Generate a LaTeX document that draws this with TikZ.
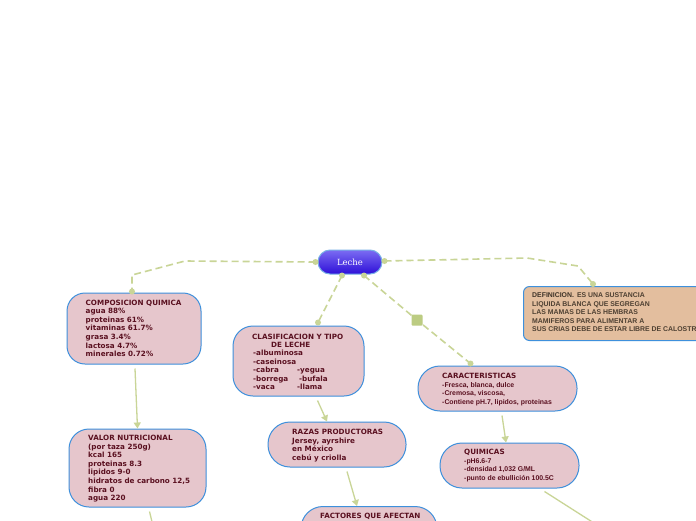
\documentclass[tikz,border=0pt]{standalone}
\usepackage{fontspec}
\setmainfont{DejaVu Sans}
\newfontfamily\vfont{DejaVu Sans}
\newfontfamily\afont{Liberation Sans}
\newfontfamily\serfont{DejaVu Serif}
\usetikzlibrary{arrows.meta,calc}
\definecolor{conn}{HTML}{C9D597}
\definecolor{connd}{HTML}{BCCC82}
\definecolor{pinkf}{HTML}{E6C6CC}
\definecolor{bord}{HTML}{3E90DC}
\definecolor{txt}{HTML}{5A1020}
\definecolor{tanf}{HTML}{E3BE9E}
\definecolor{deftxt}{HTML}{4E4032}
\definecolor{lecheTop}{HTML}{7B6CF2}
\definecolor{lecheBot}{HTML}{2E0FD8}
\tikzset{
  box/.style={draw=bord, line width=1pt, fill=pinkf, inner sep=0pt, rectangle},
  boxtext/.style={anchor=north west, inner sep=0pt, align=left, text=txt,
    font=\vfont\bfseries\fontsize{7.2}{8.6}\selectfont},
  dashconn/.style={draw=conn, line width=1.6pt, dash pattern=on 7pt off 4pt},
  solidconn/.style={draw=conn, line width=1.3pt, -{Triangle[width=7pt,length=6pt]}},
  plainconn/.style={draw=conn, line width=1.3pt},
  dot/.style={fill=conn, draw=none}
}
\newcommand{\sm}[1]{{\afont\bfseries\fontsize{6.9}{8.6}\selectfont #1}}
\begin{document}
\begin{tikzpicture}[x=1pt,y=-1pt]
\path[use as bounding box] (0,0) rectangle (696,520);
\clip (0,0) rectangle (696,520);
\fill[white] (0,0) rectangle (696,520);

% Leche
\node[draw=bord!70!white, line width=1pt, rounded corners=12pt, top color=lecheTop, bottom color=lecheBot,
  minimum width=64pt, minimum height=24pt, inner sep=0pt, text=white, font=\serfont\fontsize{8.5}{10}\selectfont]
  (leche) at (350,262) {Leche};

% boxes
\node[box, rounded corners=18pt, minimum width=134pt, minimum height=71pt] (comp) at (134,328.5) {};
\node[boxtext] (compt) at (85.5,299.5) {COMPOSICION QUIMICA\\agua 88\%\\proteinas 61\%\\vitaminas 61.7\%\\grasa 3.4\%\\lactosa 4.7\%\\minerales 0.72\%};

\node[box, rounded corners=20pt, minimum width=131pt, minimum height=70pt] (clas) at (298.5,361) {};
\node[boxtext, font=\vfont\bfseries\fontsize{7.2}{8.4}\selectfont] (clast) at (252,333.5) {CLASIFICACION Y TIPO\\\hspace*{19pt}DE LECHE\\\hspace*{1pt}-albuminosa\\\hspace*{1pt}-caseinosa\\\hspace*{1pt}\makebox[44pt][l]{-cabra}-yegua\\\hspace*{1pt}\makebox[46pt][l]{-borrega}-bufala\\\hspace*{1pt}\makebox[44pt][l]{-vaca}-llama};

\node[box, draw=bord, fill=tanf, rounded corners=6pt, minimum width=200pt, minimum height=54pt, anchor=north west] (def) at (523,286) {};
\node[anchor=north west, inner sep=0pt, align=left, text=deftxt, font=\afont\bfseries\fontsize{6.9}{8.5}\selectfont] (deft) at (532,292.5)
 {{\color{deftxt!80!black}DEFINICION.}\, ES UNA SUSTANCIA\\LIQUIDA BLANCA QUE SEGREGAN\\LAS MAMAS DE LAS HEMBRAS\\MAMIFEROS PARA ALIMENTAR A\\SUS CRIAS DEBE DE ESTAR LIBRE DE CALOSTRO};

\node[box, rounded corners=22pt, minimum width=159pt, minimum height=45pt] (car) at (497.5,388.5) {};
\node[boxtext] (cart) at (442,373) {CARACTERISTICAS\\\sm{-Fresca, blanca, dulce}\\\sm{-Cremosa, viscosa,}\\\sm{-Contiene pH.7, lipidos, proteinas}};

\node[box, rounded corners=20pt, minimum width=137pt, minimum height=78pt] (valor) at (137.5,468) {};
\node[boxtext] (valort) at (88,435) {VALOR NUTRICIONAL\\(por taza 250g)\\kcal 165\\proteinas 8.3\\lipidos 9-0\\hidratos de carbono 12,5\\fibra 0\\agua 220};

\node[box, rounded corners=22pt, minimum width=138pt, minimum height=45pt] (razas) at (337,444.5) {};
\node[boxtext] (razast) at (292,429) {RAZAS PRODUCTORAS\\Jersey, ayrshire\\en México\\cebú y criolla};

\node[box, rounded corners=22pt, minimum width=139pt, minimum height=45pt] (quim) at (509.5,465.5) {};
\node[boxtext] (quimt) at (464,449) {QUIMICAS\\\sm{-pH6.6-7}\\\sm{-densidad 1,032 G/ML}\\\sm{-punto de ebullición 100.5C}};

\node[box, rounded corners=22pt, minimum width=136pt, minimum height=45pt, anchor=north] (fact) at (369,506) {};
\node[boxtext] (factt) at (320,513) {FACTORES QUE AFECTAN};

% dashed connectors
\coordinate (l1) at (185,261);
\coordinate (l2) at (132,275);
\coordinate (lend) at ($(comp.north)+(-2,-1)$);
\draw[dashconn] ($(leche.west)+(-2,0)$) -- (l1) -- (l2) -- (lend);
\fill[dot] ($(leche.west)+(-2,0)$) circle (3pt);
\fill[dot] (lend) circle (3pt);

\coordinate (r1) at (527,258);
\coordinate (r2) at (578,266);
\coordinate (rend) at ($(def.north west)+(70,-2)$);
\draw[dashconn] ($(leche.east)+(2,-1)$) -- (r1) -- (r2) -- (rend);
\fill[dot] ($(leche.east)+(2,-1)$) circle (3pt);
\fill[dot] (rend) circle (3pt);

\coordinate (b1) at ($(leche.south)+(-8,1)$);
\coordinate (b1end) at ($(clas.north)+(19.5,-3)$);
\draw[dashconn] (b1) -- (b1end);
\fill[dot] (b1) circle (3pt);
\fill[dot] (b1end) circle (3pt);

\coordinate (b2) at ($(leche.south)+(14,1)$);
\coordinate (sq) at (417,320);
\coordinate (b2end) at ($(car.north)+(-27,-2)$);
\draw[dashconn] (b2) -- (sq) -- (b2end);
\fill[dot] (b2) circle (3pt);
\fill[dot] (b2end) circle (3pt);
\node[fill=connd, minimum size=11pt, inner sep=0pt, rounded corners=1pt] (sqn) at (sq) {};

% solid connectors
\draw[solidconn] ($(comp.south)+(1,4)$) -- (valor.north);
\draw[solidconn] ($(clas.south)+(19,4)$) -- ($(razas.north)+(-10,0)$);
\draw[solidconn] ($(razas.south)+(10,4)$) -- ($(fact.north)+(-12,0)$);
\draw[solidconn] ($(car.south)+(4.5,4)$) -- ($(quim.north)+(-3.5,0)$);
\coordinate (qoff) at (608,532);
\draw[plainconn] ($(quim.south)+(35,3)$) -- (qoff);
\coordinate (voff) at (154,530);
\draw[plainconn] ($(valor.south)+(12,4)$) -- (voff);
\end{tikzpicture}
\end{document}
